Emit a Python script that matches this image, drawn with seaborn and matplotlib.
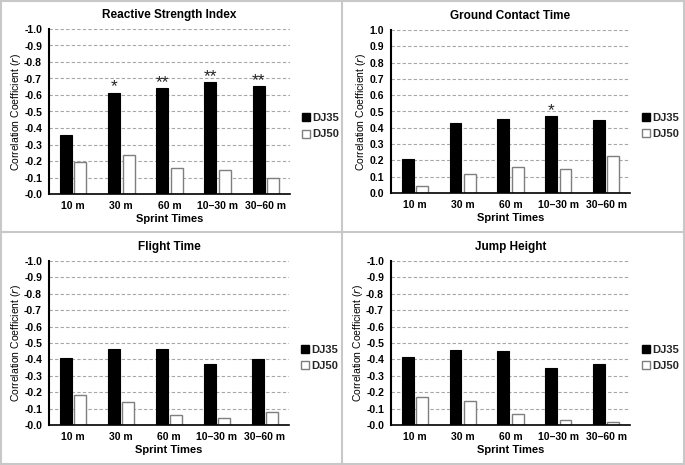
import matplotlib
matplotlib.use("Agg")
import matplotlib.pyplot as plt
import seaborn as sns
import pandas as pd
import numpy as np
from matplotlib.lines import Line2D
from matplotlib.patches import Rectangle
from matplotlib.ticker import FixedLocator, FuncFormatter

sns.set_theme(style="white")
plt.rcParams['font.family'] = ['Liberation Sans', 'DejaVu Sans']

categories = ["10 m", "30 m", "60 m", "10\u201330 m", "30\u201360 m"]
series = ["DJ35", "DJ50"]

rsi_dj35 = [-0.355, -0.615, -0.643, -0.680, -0.655]
rsi_dj50 = [-0.195, -0.235, -0.160, -0.145, -0.097]
rsi_sig = ["", "*", "**", "**", "**"]

gct_dj35 = [0.210, 0.430, 0.455, 0.475, 0.450]
gct_dj50 = [0.045, 0.115, 0.160, 0.150, 0.230]
gct_sig = ["", "", "", "*", ""]

ft_dj35 = [-0.410, -0.465, -0.465, -0.372, -0.402]
ft_dj50 = [-0.182, -0.142, -0.062, -0.040, -0.080]
ft_sig = ["", "", "", "", ""]

jh_dj35 = [-0.415, -0.455, -0.450, -0.345, -0.375]
jh_dj50 = [-0.172, -0.145, -0.065, -0.030, -0.020]
jh_sig = ["", "", "", "", ""]

panels = [
    ("Reactive Strength Index", rsi_dj35, rsi_dj50, rsi_sig, True),
    ("Ground Contact Time", gct_dj35, gct_dj50, gct_sig, False),
    ("Flight Time", ft_dj35, ft_dj50, ft_sig, True),
    ("Jump Height", jh_dj35, jh_dj50, jh_sig, True),
]

W, H = 685, 465
fig = plt.figure(figsize=(W / 100, H / 100), dpi=100)

# axes rectangles in pixel coords: (left, top, right, bottom)
boxes = [
    (49, 29, 290, 194),
    (391, 30, 630, 193),
    (49, 261, 289, 425),
    (391, 261, 630, 425),
]

edge_gray = "#7f7f7f"
grid_gray = "#a6a6a6"

for (title, a, b, sig, neg), (l, t, r, btm) in zip(panels, boxes):
    ax = fig.add_axes([l / W, 1 - btm / H, (r - l) / W, (btm - t) / H])
    df = pd.DataFrame({
        "Sprint": categories * 2,
        "Series": [series[0]] * 5 + [series[1]] * 5,
        "r": list(a) + list(b),
    })
    sns.barplot(data=df, x="Sprint", y="r", hue="Series", order=categories,
                hue_order=series, palette={"DJ35": "black", "DJ50": "white"},
                width=0.6, gap=0.17, ax=ax, legend=False, errorbar=None)
    for bar in ax.containers[0]:
        bar.set_edgecolor("black")
        bar.set_linewidth(0.8)
    for bar in ax.containers[1]:
        bar.set_edgecolor(edge_gray)
        bar.set_linewidth(1.0)
    # significance marks
    for bar, s in zip(ax.containers[0], sig):
        if s:
            x = bar.get_x() + bar.get_width() / 2
            y = bar.get_y() + bar.get_height()
            ax.annotate(s, (x, y), xytext=(0, -1.5), textcoords="offset points",
                        ha="center", va="bottom", fontsize=12.5, color="#222222")
    ax.set_xlim(-0.5, 4.5)
    ticks = [round(0.1 * i, 1) for i in range(11)]
    if neg:
        ax.set_ylim(0, -1.0)
        ax.yaxis.set_major_locator(FixedLocator([-v for v in ticks]))
        ax.yaxis.set_major_formatter(FuncFormatter(lambda v, p: "-%.1f" % abs(v)))
    else:
        ax.set_ylim(0, 1.0)
        ax.yaxis.set_major_locator(FixedLocator(ticks))
        ax.yaxis.set_major_formatter(FuncFormatter(lambda v, p: "%.1f" % abs(v)))
    ax.set_axisbelow(True)
    ax.yaxis.grid(True, linestyle=(0, (3, 2)), color=grid_gray, linewidth=0.8)
    ax.xaxis.grid(False)
    for sp in ["top", "right"]:
        ax.spines[sp].set_visible(False)
    ax.spines["left"].set_color("black")
    ax.spines["left"].set_linewidth(1.5)
    ax.spines["bottom"].set_color("black")
    ax.spines["bottom"].set_linewidth(1.2)
    ax.tick_params(axis="y", which="major", direction="out", length=3, width=1,
                   color="black", pad=2, labelsize=7.5)
    ax.tick_params(axis="x", which="major", length=0, pad=5, labelsize=7.5)
    ax.set_xticks(range(5))
    ax.set_xticklabels(categories)
    ax.set_xticks([0.5, 1.5, 2.5, 3.5, 4.5], minor=True)
    ax.tick_params(axis="x", which="minor", direction="inout", length=4, width=1,
                   color="black")
    for lab in ax.get_xticklabels() + ax.get_yticklabels():
        lab.set_fontweight("bold")
        lab.set_color("black")
    ax.set_xlabel("Sprint Times", fontsize=8, fontweight="bold", labelpad=2, color="black")
    ax.set_ylabel(r"Correlation Coefficient ($\mathit{r}$)", fontsize=7.5,
                  labelpad=1, color="black")
    ax.set_title(title, fontsize=8.5, fontweight="bold", pad=8, color="black")
    handles = [
        Line2D([], [], marker="s", linestyle="none", markersize=5.5,
               markerfacecolor="black", markeredgecolor="black", label="DJ35"),
        Line2D([], [], marker="s", linestyle="none", markersize=5.5,
               markerfacecolor="white", markeredgecolor=edge_gray, label="DJ50"),
    ]
    ax.legend(handles=handles, loc="center left", bbox_to_anchor=(1.01, 0.41),
              frameon=False, handlelength=0.6, handletextpad=0.3,
              labelspacing=0.55, prop={"weight": "bold", "size": 8})

# panel borders
border = "#c8c8c8"
fig.add_artist(Rectangle((1.0 / W, 1.0 / H), (W - 2.0) / W, (H - 2.0) / H,
                         transform=fig.transFigure, fill=False,
                         edgecolor=border, linewidth=1.5))
fig.add_artist(Line2D([341.5 / W, 341.5 / W], [0, 1], transform=fig.transFigure,
                      color=border, linewidth=1.5))
fig.add_artist(Line2D([0, 1], [1 - 232.5 / H, 1 - 232.5 / H], transform=fig.transFigure,
                      color=border, linewidth=1.5))

fig.savefig("out.png", dpi=100, facecolor="white")
